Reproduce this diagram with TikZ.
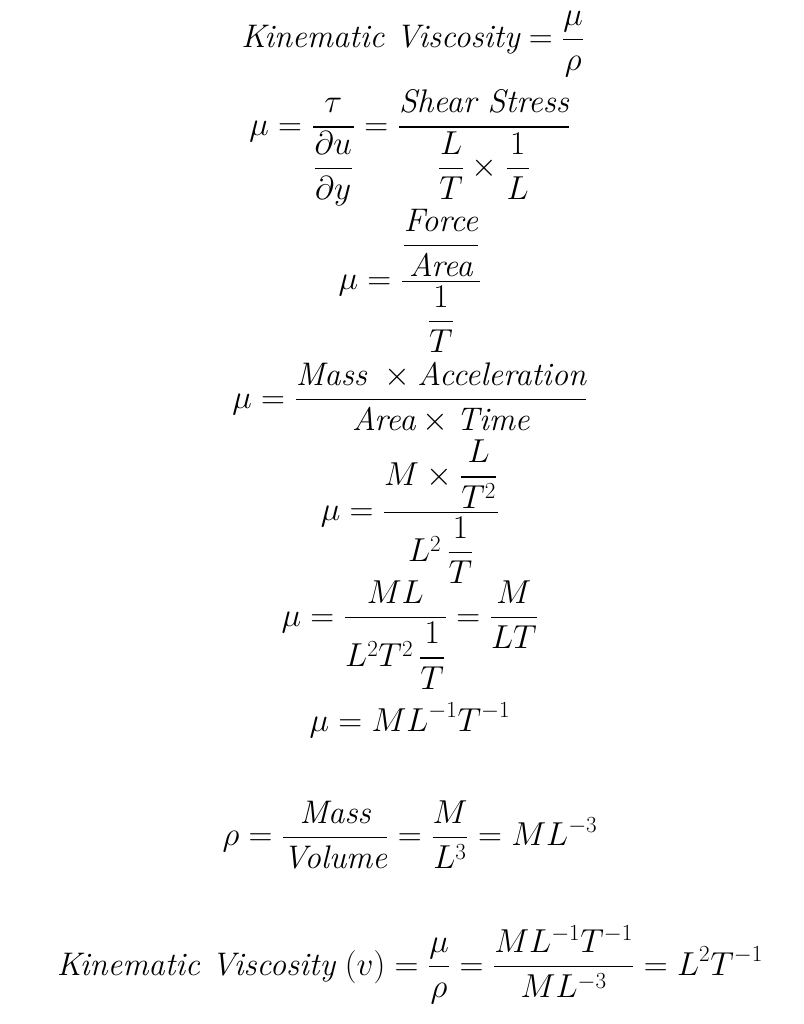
\documentclass[tikz,border=0pt]{standalone}
\usepackage{amsmath}
\tikzset{every picture/.style={line width=0.75pt}}
\tikzset{eqn/.style={inner sep=0.75pt,font=\fontsize{24.5}{29}\selectfont}}
\newcommand{\txt}[1]{\text{\itshape #1}}
\begin{document}
\begin{tikzpicture}[x=0.75pt,y=0.75pt,yscale=-1,xscale=1]
\useasboundingbox (0,0) rectangle (803,1024);

% Text Node
\node [eqn] (kin) at (413,44) {$\displaystyle \txt{Kinematic Viscosity}=\frac{\mu}{\rho}$};
% Text Node
\node [eqn] (mua) at (410,148) {$\displaystyle \mu=\frac{\tau}{\dfrac{\partial u}{\partial y}}=\frac{\txt{Shear Stress}}{\dfrac{L}{T}\times\dfrac{1}{L}}$};
% Text Node
\node [eqn] (mub) at (410,281) {$\displaystyle \mu=\frac{\dfrac{\txt{Force}}{\txt{Area}}}{\dfrac{1}{T}}$};
% Text Node
\node [eqn] (muc) at (410,398) {$\displaystyle \mu=\frac{\txt{Mass}\ \times\txt{Acceleration}}{\txt{Area}\times\txt{Time}}$};
% Text Node
\node [eqn] (mud) at (410,512) {$\displaystyle \mu=\frac{M\times\dfrac{L}{T^2}}{L^2\,\dfrac{1}{T}}$};
% Text Node
\node [eqn] (mue) at (410,635) {$\displaystyle \mu=\frac{ML}{L^2T^2\,\dfrac{1}{T}}=\frac{M}{LT}$};
% Text Node
\node [eqn] (muf) at (410,720) {$\displaystyle \mu=ML^{-1}T^{-1}$};
% Text Node
\node [eqn] (rho) at (410,835) {$\displaystyle \rho=\frac{\txt{Mass}}{\txt{Volume}}=\frac{M}{L^3}=ML^{-3}$};
% Text Node
\node [eqn] (nu) at (410,965) {$\displaystyle \txt{Kinematic Viscosity}\ (v)=\frac{\mu}{\rho}=\frac{ML^{-1}T^{-1}}{ML^{-3}}=L^2T^{-1}$};

\end{tikzpicture}
\end{document}
